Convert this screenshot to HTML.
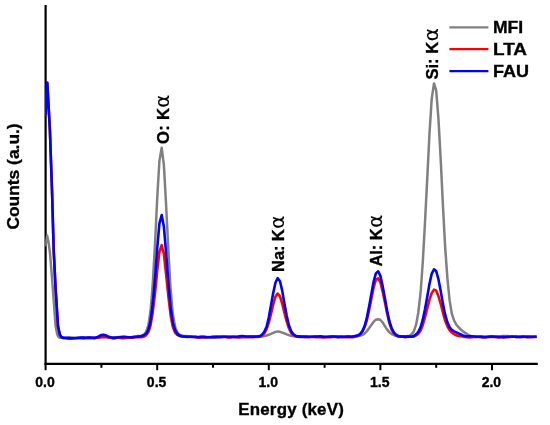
<!DOCTYPE html>
<html lang="en">
<head>
<meta charset="utf-8">
<title>EDS spectra</title>
<style>
html,body{margin:0;padding:0;background:#fff;}
body{width:550px;height:425px;overflow:hidden;}
svg{display:block;}
svg text{font-family:"Liberation Sans",Arial,Helvetica,sans-serif;font-weight:bold;fill:#000;stroke:#000;stroke-width:0.35px;}
</style>
</head>
<body>
<svg width="550" height="425" viewBox="0 0 550 425">
<defs><clipPath id="plotclip"><rect x="45.2" y="0" width="500" height="364"/></clipPath></defs>
<rect width="550" height="425" fill="#fff"/>
<g stroke="#000" stroke-width="2.2" fill="none">
<line x1="45.6" y1="5" x2="45.6" y2="364.9"/>
<line x1="44.5" y1="363.8" x2="537.8" y2="363.8"/>
<g stroke-width="2"><line x1="45.6" y1="363.8" x2="45.6" y2="370.2"/><line x1="101.4" y1="363.8" x2="101.4" y2="367.8"/><line x1="157.2" y1="363.8" x2="157.2" y2="370.2"/><line x1="213.0" y1="363.8" x2="213.0" y2="367.8"/><line x1="268.8" y1="363.8" x2="268.8" y2="370.2"/><line x1="324.6" y1="363.8" x2="324.6" y2="367.8"/><line x1="380.4" y1="363.8" x2="380.4" y2="370.2"/><line x1="436.2" y1="363.8" x2="436.2" y2="367.8"/><line x1="492.0" y1="363.8" x2="492.0" y2="370.2"/></g>
</g>
<g clip-path="url(#plotclip)" fill="none" stroke-linejoin="round" stroke-linecap="butt" stroke-width="2.6">
<path stroke="#808080" stroke-width="2.5" d="M45.4 246.2 L47.1 235.6 L48.5 242.0 L50.0 253.2 L52.3 281.5 L53.8 302.0 L55.6 326.0 L57.1 334.0 L58.5 337.0 L59.7 337.8 L61.2 337.8 L63.5 337.8 L65.7 337.9 L67.9 337.8 L70.2 337.5 L72.4 337.5 L74.6 337.7 L76.8 337.8 L79.1 337.6 L81.3 337.5 L83.5 337.5 L85.8 337.6 L88.0 337.6 L90.2 337.6 L92.5 337.8 L94.7 337.8 L96.9 337.6 L99.2 337.1 L101.4 336.4 L103.6 336.2 L105.9 336.4 L108.1 336.9 L110.3 337.3 L112.6 337.3 L114.8 337.2 L117.0 337.2 L119.3 337.1 L121.5 337.1 L123.7 337.1 L126.0 337.0 L128.2 337.2 L130.4 337.3 L132.6 337.1 L134.9 336.6 L137.1 336.1 L139.3 336.0 L141.6 335.8 L143.8 334.7 L146.0 331.9 L148.3 325.6 L150.5 311.3 L152.7 284.5 L155.0 244.6 L157.2 198.5 L159.4 160.9 L161.7 147.7 L163.9 165.1 L166.1 205.0 L168.4 251.0 L170.6 289.2 L172.8 313.8 L175.1 326.8 L177.3 332.4 L179.5 334.6 L181.8 335.6 L184.0 336.0 L186.2 336.1 L188.4 336.3 L190.7 336.6 L192.9 336.9 L195.1 337.2 L197.4 337.1 L199.6 336.5 L201.8 336.3 L204.1 336.5 L206.3 336.8 L208.5 336.9 L210.8 336.7 L213.0 336.4 L215.2 336.5 L217.5 336.8 L219.7 336.8 L221.9 336.8 L224.2 336.6 L226.4 336.6 L228.6 336.7 L230.9 336.7 L233.1 336.7 L235.3 336.5 L237.6 336.5 L239.8 336.5 L242.0 336.7 L244.2 336.8 L246.5 336.8 L248.7 336.6 L250.9 336.4 L253.2 336.4 L255.4 336.5 L257.6 336.5 L259.9 336.4 L262.1 336.2 L264.3 335.9 L266.6 335.5 L268.8 334.8 L271.0 333.9 L273.3 332.9 L275.5 331.9 L277.7 331.4 L280.0 331.8 L282.2 332.6 L284.4 333.4 L286.7 334.4 L288.9 335.2 L291.1 335.7 L293.4 336.2 L295.6 336.5 L297.8 336.4 L300.0 336.4 L302.3 336.3 L304.5 336.2 L306.7 336.3 L309.0 336.6 L311.2 336.7 L313.4 336.5 L315.7 336.5 L317.9 336.8 L320.1 336.8 L322.4 336.5 L324.6 336.7 L326.8 336.9 L329.1 336.6 L331.3 336.4 L333.5 336.5 L335.8 336.5 L338.0 336.3 L340.2 336.3 L342.5 336.6 L344.7 336.6 L346.9 336.5 L349.2 336.4 L351.4 336.4 L353.6 336.5 L355.8 336.4 L358.1 336.1 L360.3 335.7 L362.5 334.9 L364.8 333.4 L367.0 331.0 L369.2 328.0 L371.5 324.7 L373.7 321.7 L375.9 319.7 L378.2 319.2 L380.4 320.0 L382.6 322.4 L384.9 326.1 L387.1 329.7 L389.3 332.2 L391.6 333.9 L393.8 335.1 L396.0 335.8 L398.3 336.1 L400.5 336.2 L402.7 336.2 L405.0 336.2 L407.2 336.1 L409.4 335.7 L411.6 334.3 L413.9 331.2 L416.1 324.7 L418.3 312.7 L420.6 292.5 L422.8 262.0 L425.0 222.4 L427.3 177.4 L429.5 133.3 L431.7 99.1 L434.0 83.4 L436.2 90.4 L438.4 118.1 L440.7 159.2 L442.9 204.7 L445.1 246.1 L447.4 278.3 L449.6 300.4 L451.8 313.6 L454.1 320.7 L456.3 324.6 L458.5 327.2 L460.8 329.5 L463.0 331.4 L465.2 332.9 L467.4 334.3 L469.7 335.5 L471.9 336.3 L474.1 336.8 L476.4 336.9 L478.6 336.6 L480.8 336.3 L483.1 336.5 L485.3 336.7 L487.5 336.8 L489.8 336.7 L492.0 336.6 L494.2 336.6 L496.5 336.6 L498.7 336.7 L500.9 336.3 L503.2 335.9 L505.4 336.0 L507.6 336.1 L509.9 336.4 L512.1 336.7 L514.3 336.5 L516.6 336.3 L518.8 336.5 L521.0 336.4 L523.2 336.3 L525.5 336.6 L527.7 336.6 L529.9 336.6 L532.2 336.7 L534.4 336.8 L536.6 336.8"/>
<path stroke="#ff0000" d="M45.5 115.6 L47.3 83.3 L49.9 130.3 L52.0 190.3 L53.7 250.3 L55.6 289.3 L58.0 326.3 L59.8 334.8 L61.5 337.4 L63.2 338.2 L65.7 338.2 L67.9 338.6 L70.2 338.8 L72.4 338.4 L74.6 338.2 L76.8 338.2 L79.1 338.2 L81.3 338.3 L83.5 338.4 L85.8 338.2 L88.0 338.1 L90.2 338.0 L92.5 338.1 L94.7 338.1 L96.9 337.8 L99.2 337.6 L101.4 337.3 L103.6 337.1 L105.9 337.1 L108.1 337.4 L110.3 337.8 L112.6 338.1 L114.8 338.2 L117.0 337.8 L119.3 337.8 L121.5 338.1 L123.7 338.2 L126.0 338.0 L128.2 337.7 L130.4 337.7 L132.6 337.7 L134.9 337.5 L137.1 337.3 L139.3 337.0 L141.6 337.1 L143.8 336.7 L146.0 335.3 L148.3 332.3 L150.5 325.5 L152.7 312.7 L155.0 293.5 L157.2 270.8 L159.4 251.9 L161.7 245.2 L163.9 254.0 L166.1 274.1 L168.4 296.7 L170.6 315.0 L172.8 326.7 L175.1 332.5 L177.3 334.8 L179.5 335.9 L181.8 336.5 L184.0 336.8 L186.2 336.9 L188.4 336.8 L190.7 337.0 L192.9 337.0 L195.1 337.0 L197.4 337.4 L199.6 337.5 L201.8 337.4 L204.1 337.4 L206.3 337.4 L208.5 337.2 L210.8 337.3 L213.0 337.3 L215.2 337.0 L217.5 337.1 L219.7 337.2 L221.9 336.9 L224.2 337.0 L226.4 337.3 L228.6 337.5 L230.9 337.4 L233.1 337.1 L235.3 337.0 L237.6 337.4 L239.8 337.4 L242.0 337.2 L244.2 337.2 L246.5 337.2 L248.7 337.2 L250.9 337.3 L253.2 337.2 L255.4 337.0 L257.6 337.0 L259.9 336.7 L262.1 335.7 L264.3 333.4 L266.6 329.1 L268.8 322.7 L271.0 313.9 L273.3 304.2 L275.5 296.5 L277.7 293.5 L280.0 296.3 L282.2 303.5 L284.4 312.6 L286.7 321.3 L288.9 328.3 L291.1 332.8 L293.4 335.1 L295.6 336.2 L297.8 336.7 L300.0 336.9 L302.3 336.9 L304.5 336.8 L306.7 337.1 L309.0 337.3 L311.2 337.0 L313.4 336.8 L315.7 337.1 L317.9 337.1 L320.1 337.2 L322.4 337.4 L324.6 337.5 L326.8 337.3 L329.1 337.1 L331.3 337.1 L333.5 336.9 L335.8 336.9 L338.0 336.9 L340.2 336.9 L342.5 337.1 L344.7 337.2 L346.9 337.1 L349.2 337.0 L351.4 337.1 L353.6 337.1 L355.8 336.6 L358.1 335.8 L360.3 334.3 L362.5 331.3 L364.8 326.6 L367.0 319.8 L369.2 309.8 L371.5 298.1 L373.7 287.2 L375.9 279.9 L378.2 278.3 L380.4 282.4 L382.6 291.3 L384.9 302.3 L387.1 313.3 L389.3 322.8 L391.6 329.5 L393.8 333.4 L396.0 335.6 L398.3 336.6 L400.5 336.8 L402.7 336.8 L405.0 337.1 L407.2 336.9 L409.4 336.7 L411.6 336.8 L413.9 336.5 L416.1 335.4 L418.3 333.7 L420.6 330.6 L422.8 325.0 L425.0 317.2 L427.3 308.2 L429.5 299.7 L431.7 293.1 L434.0 289.6 L436.2 290.7 L438.4 296.0 L440.7 303.8 L442.9 312.4 L445.1 320.3 L447.4 326.3 L449.6 330.1 L451.8 332.5 L454.1 334.1 L456.3 335.3 L458.5 335.9 L460.8 336.1 L463.0 336.6 L465.2 337.0 L467.4 337.3 L469.7 337.4 L471.9 337.2 L474.1 336.9 L476.4 336.8 L478.6 337.0 L480.8 337.3 L483.1 337.3 L485.3 337.3 L487.5 337.3 L489.8 337.0 L492.0 336.8 L494.2 336.9 L496.5 337.2 L498.7 337.4 L500.9 337.3 L503.2 337.0 L505.4 337.2 L507.6 337.2 L509.9 337.0 L512.1 336.8 L514.3 336.8 L516.6 337.0 L518.8 337.0 L521.0 336.8 L523.2 336.9 L525.5 337.0 L527.7 337.1 L529.9 337.2 L532.2 337.1 L534.4 337.0 L536.6 337.0"/>
<path stroke="#0000ff" d="M45.5 115.0 L47.3 82.5 L49.9 130.0 L52.0 190.0 L53.7 250.0 L55.6 289.0 L58.0 326.0 L59.8 334.5 L61.5 337.0 L63.2 337.8 L65.7 337.8 L67.9 337.8 L70.2 338.1 L72.4 338.3 L74.6 338.3 L76.8 338.0 L79.1 337.8 L81.3 337.6 L83.5 337.6 L85.8 337.8 L88.0 337.6 L90.2 337.5 L92.5 337.8 L94.7 337.9 L96.9 337.3 L99.2 336.1 L101.4 335.0 L103.6 334.8 L105.9 335.5 L108.1 336.5 L110.3 337.3 L112.6 337.9 L114.8 337.9 L117.0 337.5 L119.3 337.3 L121.5 337.1 L123.7 336.9 L126.0 337.0 L128.2 337.2 L130.4 337.4 L132.6 337.1 L134.9 336.7 L137.1 336.7 L139.3 336.4 L141.6 335.9 L143.8 335.3 L146.0 333.8 L148.3 329.9 L150.5 321.0 L152.7 304.0 L155.0 278.5 L157.2 248.6 L159.4 223.7 L161.7 215.0 L163.9 226.7 L166.1 252.9 L168.4 282.8 L170.6 307.2 L172.8 322.5 L175.1 330.3 L177.3 333.9 L179.5 335.6 L181.8 336.3 L184.0 336.5 L186.2 336.7 L188.4 336.7 L190.7 336.7 L192.9 336.8 L195.1 336.7 L197.4 337.1 L199.6 337.2 L201.8 337.0 L204.1 337.0 L206.3 337.2 L208.5 337.3 L210.8 337.2 L213.0 337.1 L215.2 337.1 L217.5 336.9 L219.7 336.8 L221.9 336.9 L224.2 336.7 L226.4 336.8 L228.6 336.9 L230.9 336.7 L233.1 336.8 L235.3 337.0 L237.6 336.8 L239.8 336.3 L242.0 336.0 L244.2 336.2 L246.5 336.5 L248.7 336.5 L250.9 336.5 L253.2 336.6 L255.4 336.6 L257.6 336.5 L259.9 336.0 L262.1 334.5 L264.3 331.8 L266.6 326.7 L268.8 317.6 L271.0 305.3 L273.3 292.6 L275.5 282.5 L277.7 278.2 L280.0 281.2 L282.2 290.6 L284.4 303.4 L286.7 315.8 L288.9 325.2 L291.1 331.0 L293.4 334.2 L295.6 335.8 L297.8 336.4 L300.0 336.6 L302.3 336.8 L304.5 336.9 L306.7 336.8 L309.0 336.7 L311.2 336.8 L313.4 336.7 L315.7 336.6 L317.9 336.5 L320.1 336.3 L322.4 336.6 L324.6 336.8 L326.8 336.7 L329.1 336.7 L331.3 336.5 L333.5 336.5 L335.8 336.8 L338.0 337.1 L340.2 337.0 L342.5 336.7 L344.7 336.7 L346.9 336.6 L349.2 336.6 L351.4 336.7 L353.6 336.4 L355.8 335.8 L358.1 335.3 L360.3 333.9 L362.5 331.0 L364.8 325.5 L367.0 317.0 L369.2 305.9 L371.5 293.2 L373.7 281.3 L375.9 273.4 L378.2 271.3 L380.4 275.9 L382.6 285.9 L384.9 298.3 L387.1 310.6 L389.3 320.9 L391.6 328.0 L393.8 332.3 L396.0 334.7 L398.3 336.0 L400.5 336.5 L402.7 336.6 L405.0 336.6 L407.2 336.5 L409.4 336.6 L411.6 336.7 L413.9 335.9 L416.1 334.3 L418.3 331.9 L420.6 327.1 L422.8 319.7 L425.0 309.3 L427.3 296.5 L429.5 283.8 L431.7 273.9 L434.0 269.3 L436.2 271.1 L438.4 279.0 L440.7 290.9 L442.9 303.6 L445.1 314.4 L447.4 322.4 L449.6 327.2 L451.8 329.9 L454.1 331.4 L456.3 332.4 L458.5 333.4 L460.8 334.5 L463.0 335.5 L465.2 336.1 L467.4 336.3 L469.7 336.3 L471.9 336.3 L474.1 336.5 L476.4 336.8 L478.6 336.7 L480.8 336.8 L483.1 337.1 L485.3 337.1 L487.5 336.7 L489.8 336.6 L492.0 336.6 L494.2 336.7 L496.5 336.8 L498.7 336.9 L500.9 337.0 L503.2 337.1 L505.4 337.0 L507.6 336.8 L509.9 336.7 L512.1 336.6 L514.3 336.7 L516.6 336.9 L518.8 337.0 L521.0 337.0 L523.2 336.8 L525.5 336.8 L527.7 336.9 L529.9 336.8 L532.2 336.7 L534.4 336.7 L536.6 336.6"/>
</g>
<g><text x="45.0" y="387" text-anchor="middle" font-size="14">0.0</text><text x="156.6" y="387" text-anchor="middle" font-size="14">0.5</text><text x="268.2" y="387" text-anchor="middle" font-size="14">1.0</text><text x="379.8" y="387" text-anchor="middle" font-size="14">1.5</text><text x="491.4" y="387" text-anchor="middle" font-size="14">2.0</text></g>
<text x="238.3" y="414.6" font-size="16.9" letter-spacing="0.2">Energy (keV)</text>
<text transform="translate(19.4 229.6) rotate(-90)" font-size="17.4">Counts (a.u.)</text>
<g transform="translate(168.5 143.9) rotate(-90)"><text font-size="16.6" textLength="35.9" lengthAdjust="spacing">O: K</text><text x="36.1" font-size="19.5" style="font-family:'DejaVu Sans','Liberation Sans',sans-serif;font-weight:normal;stroke-width:0.15px">α</text></g><g transform="translate(283.5 271.9) rotate(-90)"><text font-size="16.6" textLength="42.7" lengthAdjust="spacing">Na: K</text><text x="43.2" font-size="20.0" style="font-family:'DejaVu Sans','Liberation Sans',sans-serif;font-weight:normal;stroke-width:0.15px">α</text></g><g transform="translate(381.6 266.6) rotate(-90)"><text font-size="16.6" textLength="38.3" lengthAdjust="spacing">Al: K</text><text x="38.9" font-size="19.5" style="font-family:'DejaVu Sans','Liberation Sans',sans-serif;font-weight:normal;stroke-width:0.15px">α</text></g><g transform="translate(438.0 79.5) rotate(-90)"><text font-size="16.6" textLength="37.7" lengthAdjust="spacing">Si: K</text><text x="38.3" font-size="20.0" style="font-family:'DejaVu Sans','Liberation Sans',sans-serif;font-weight:normal;stroke-width:0.15px">α</text></g>
<g stroke-width="2.3" fill="none">
<line x1="449.4" y1="27.3" x2="488.4" y2="27.3" stroke="#808080"/>
<line x1="449.4" y1="49.2" x2="488.4" y2="49.2" stroke="#ff0000"/>
<line x1="449.4" y1="71.2" x2="488.4" y2="71.2" stroke="#0000ff"/>
</g>
<g font-size="16.5">
<text x="493" y="32.8" textLength="30.2" lengthAdjust="spacingAndGlyphs">MFI</text>
<text x="493" y="54.8" textLength="34" lengthAdjust="spacingAndGlyphs">LTA</text>
<text x="493" y="76.8" textLength="36" lengthAdjust="spacingAndGlyphs">FAU</text>
</g>
</svg>
</body>
</html>
